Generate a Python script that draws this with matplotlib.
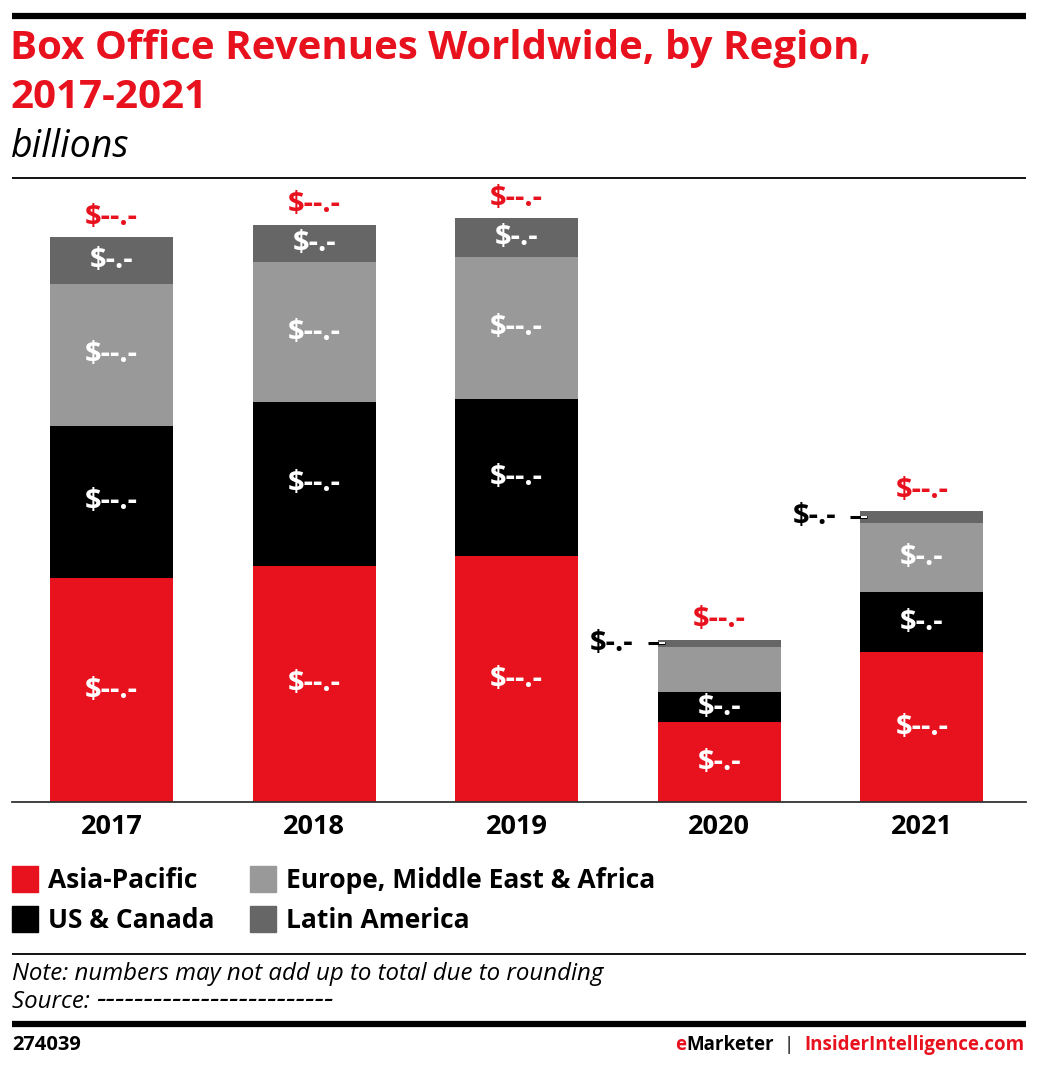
import numpy as np
from matplotlib import pyplot as plt

plt.rcParams['font.family'] = ['Open Sans', 'DejaVu Sans']

years = ['2017', '2018', '2019', '2020', '2021']
series = ['Asia-Pacific', 'US & Canada', 'Europe, Middle East & Africa', 'Latin America']
asia = [16.3, 17.2, 17.9, 5.8, 10.9]
us_canada = [11.1, 11.9, 11.4, 2.2, 4.4]
emea = [10.3, 10.2, 10.4, 3.3, 5.0]
latam = [3.4, 2.7, 2.8, 0.5, 0.9]
# which segment labels are shown inside the bars
show_emea = [True, True, True, False, True]
latam_outside = [False, False, False, True, True]

RED = '#e8111e'
colors = [RED, '#000000', '#999999', '#666666']

W, H = 1038, 1070
fig = plt.figure(figsize=(W / 100, H / 100), dpi=100)

def fx(px):
    return px / W

def fy(py):
    return 1 - py / H

def mask(v):
    return '$' + '-' * len(str(int(v))) + '.-'

# header / footer rules
def hline(py, lw, color='black', x0=12, x1=1026):
    fig.add_artist(plt.Line2D([fx(x0), fx(x1)], [fy(py), fy(py)], lw=lw, color=color,
                              solid_capstyle='butt'))

hline(16, 4.5)
hline(178, 1.3)
hline(954, 1.3)
hline(1024, 4.5)

fig.text(fx(10), fy(48), 'Box Office Revenues Worldwide, by Region,', color=RED,
         fontsize=29, fontweight='bold', va='center', ha='left')
fig.text(fx(10), fy(97), '2017-2021', color=RED, fontsize=29, fontweight='bold',
         va='center', ha='left')
fig.text(fx(11), fy(157), 'billions', fontsize=27, style='italic', va='baseline', ha='left')

# plot area
ax = fig.add_axes([fx(12), fy(802), fx(1026) - fx(12), fy(180) - fy(802)])
step = 202.5
ppu = 13.74  # pixels per billion
x = np.arange(len(years))
ax.set_xlim(-(111.5 - 12) / step, 4 + (1026 - 922) / step)
ax.set_ylim(0, (802 - 180) / ppu)
bw = 123 / step

LBL = 21
data = [asia, us_canada, emea, latam]
bottom = np.zeros(len(years))
for vals, c in zip(data, colors):
    ax.bar(x, vals, bw, bottom=bottom, color=c, linewidth=0)
    bottom += np.array(vals)

for i in range(len(years)):
    b = 0
    for k, vals in enumerate(data):
        v = vals[i]
        mid = b + v / 2
        if k == 2 and not show_emea[i]:
            pass
        elif k == 3 and latam_outside[i]:
            left = x[i] - bw / 2
            ax.plot([left - 10 / step, left + 7 / step], [mid, mid], color='black', lw=2.2,
                    solid_capstyle='butt')
            ax.plot([left + 1 / step, left + 7 / step], [mid, mid], color='white', lw=1.4,
                    solid_capstyle='butt')
            ax.text(left - 24 / step, mid, mask(v), ha='right', va='center',
                    fontsize=LBL, fontweight='bold', color='black')
        else:
            ax.text(x[i], mid, mask(v), ha='center', va='center', fontsize=LBL,
                    fontweight='bold', color='white')
        b += v
    ax.text(x[i], bottom[i] + 20 / ppu, mask(bottom[i]), ha='center', va='center', fontsize=LBL,
            fontweight='bold', color=RED)

ax.set_xticks(x)
ax.set_xticklabels(years, fontsize=19.5, fontweight='bold')
ax.tick_params(axis='x', length=0, pad=9)
ax.set_yticks([])
for s in ['top', 'left', 'right']:
    ax.spines[s].set_visible(False)
ax.spines['bottom'].set_color('#333333')
ax.spines['bottom'].set_linewidth(1.3)

# legend
legend_pos = [(12, 879), (12, 919), (250, 879), (250, 919)]
for name, c, (lx, ly) in zip(series, colors, legend_pos):
    fig.patches.append(plt.Rectangle((fx(lx), fy(ly + 13)), fx(26), 26 / H, color=c,
                                     transform=fig.transFigure))
    fig.text(fx(lx + 36), fy(ly + 2), name, fontsize=19, fontweight='bold', va='center', ha='left')

fig.text(fx(12), fy(974), 'Note: numbers may not add up to total due to rounding', fontsize=17.3,
         style='italic', va='center', ha='left')
src = fig.text(fx(12), fy(1008), 'Source: ', fontsize=17.3, style='italic', va='baseline',
               ha='left')
fig.canvas.draw()
sb = src.get_window_extent()
fig.text(sb.x1 / W, fy(1008), '-------------------------', fontsize=22, style='italic',
         va='baseline', ha='left')
fig.text(fx(12), fy(1045), '274039', fontsize=14.5, fontweight='bold', va='center', ha='left')

t1 = fig.text(fx(1024), fy(1045), 'InsiderIntelligence.com', fontsize=13.5, fontweight='bold',
              color=RED, va='center', ha='right')
fig.canvas.draw()
bb = t1.get_window_extent()
t2 = fig.text(bb.x0 / W - fx(10), fy(1045), '|', fontsize=13.5, color='black', va='center',
              ha='right')
bb2 = t2.get_window_extent()
t3 = fig.text(bb2.x0 / W - fx(10), fy(1045), 'Marketer', fontsize=13.5, fontweight='bold',
              color='black', va='center', ha='right')
bb3 = t3.get_window_extent()
fig.text(bb3.x0 / W, fy(1045), 'e', fontsize=13.5, fontweight='bold', color=RED, va='center',
         ha='right')

fig.savefig('out.png', dpi=100)
